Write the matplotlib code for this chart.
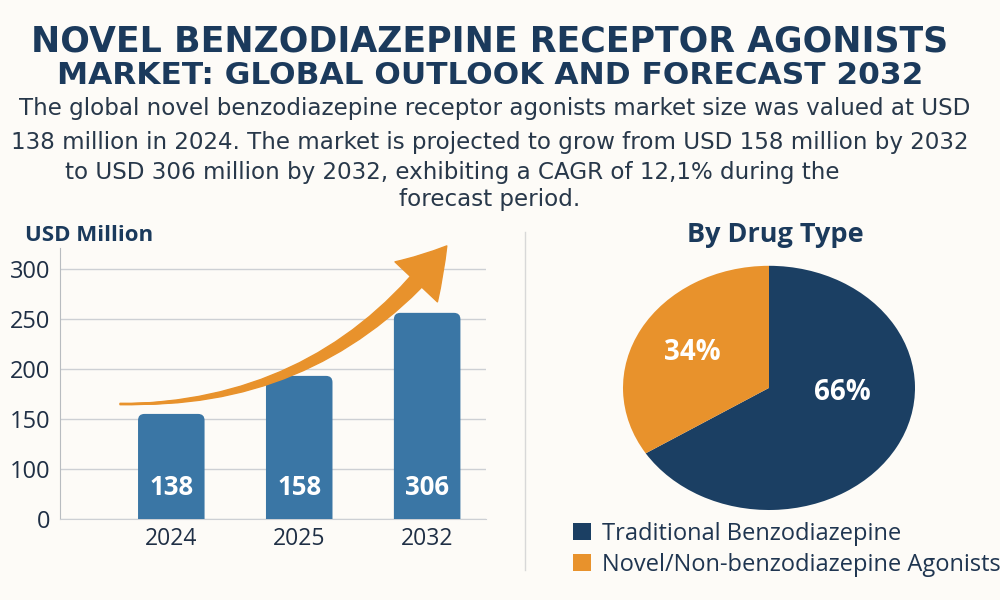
import matplotlib.pyplot as plt
from matplotlib.patches import FancyBboxPatch, FancyArrowPatch
from matplotlib.lines import Line2D

# data
years = ['2024', '2025', '2032']
bar_heights = [155, 193, 256]      # bar tops as drawn against the axis
bar_labels = ['138', '158', '306']
ytick_pos = [50, 100, 150, 200, 250, 300]
ytick_labels = ['0', '100', '150', '200', '250', '300']

drug_types = ['Traditional Benzodiazepine', 'Novel/Non-benzodiazepine Agonists']
shares = [66, 34]

title_lines = ['NOVEL BENZODIAZEPINE RECEPTOR AGONISTS',
               'MARKET: GLOBAL OUTLOOK AND FORECAST 2032']
body_lines = ['The global novel benzodiazepine receptor agonists market size was valued at USD',
              '138 million in 2024. The market is projected to grow from USD 158 million by 2032',
              'to USD 306 million by 2032, exhibiting a CAGR of 12,1% during the',
              'forecast period.']

BG = '#FDFBF7'
NAVY = '#1B3A5C'
BAR = '#3A76A5'
PIE_NAVY = '#1B3F63'
ORANGE = '#E8922C'
GRID = '#CDD0D4'
HEAD = ['DejaVu Sans']
GEO = ['Open Sans', 'DejaVu Sans']

fig = plt.figure(figsize=(10, 6), dpi=100, facecolor=BG)

# header
fig.text(0.49, 0.930, title_lines[0], ha='center', va='center', family=HEAD,
         fontsize=25, fontweight='bold', color=NAVY)
fig.text(0.49, 0.875, title_lines[1], ha='center', va='center', family=HEAD,
         fontsize=22.5, fontweight='bold', color=NAVY)
body_x = [0.495, 0.49, 0.452, 0.49]
body_y = [0.820, 0.763, 0.713, 0.667]
for txt, bx, by in zip(body_lines, body_x, body_y):
    fig.text(bx, by, txt, ha='center', va='center', family=HEAD,
             fontsize=16.6, color='#28384A')

# bar chart
ax = fig.add_axes([0.06, 0.135, 0.426, 0.452])
ax.set_facecolor(BG)
x = range(len(years))
bars = ax.bar(x, bar_heights, width=0.52, color=BAR)
ax.set_xlim(-0.87, 2.46)
ax.set_ylim(50, 321)
# rounded tops: swap plain rectangles for round boxes
asp = (271 / 271) / (3.33 / 426)
for b in bars:
    rb = FancyBboxPatch((b.get_x(), b.get_y()), b.get_width(), b.get_height(),
                        boxstyle='round,pad=0,rounding_size=0.05',
                        mutation_aspect=asp, fc=BAR, ec='none', zorder=3)
    b.remove()
    ax.add_patch(rb)
for xi, lab in zip(x, bar_labels):
    ax.text(xi, 81, lab, ha='center', va='center', color='white', family=GEO,
            fontsize=18.5, fontweight='bold', zorder=4)
ax.set_yticks(ytick_pos)
ax.set_yticklabels(ytick_labels)
ax.set_xticks(list(x))
ax.set_xticklabels(years)
ax.tick_params(length=0, labelsize=16.5, labelcolor='#1F2F45')
ax.tick_params(axis='y', labelsize=17, pad=7)
ax.tick_params(axis='x', pad=6)
for t in ax.get_xticklabels() + ax.get_yticklabels():
    t.set_family(GEO)
ax.grid(axis='y', color=GRID, lw=1)
ax.set_axisbelow(True)
for s in ['top', 'right']:
    ax.spines[s].set_visible(False)
ax.spines['left'].set_color('#B8BCC0')
ax.spines['bottom'].set_color(GRID)

fig.text(0.025, 0.608, 'USD Million', ha='left', va='center', family=GEO,
         fontsize=16, fontweight='bold', color=NAVY)

# growth arrow: tapering body plus head
start, tip = (0.141, 0.424), (0.908, 1.007)
body = FancyArrowPatch(tip, start, transform=ax.transAxes,
                       connectionstyle='arc3,rad=-0.25',
                       arrowstyle='wedge,tail_width=0.6,shrink_factor=0.5',
                       mutation_scale=20, color=ORANGE, shrinkA=20, shrinkB=0,
                       clip_on=False, zorder=5)
head = FancyArrowPatch(start, tip, transform=ax.transAxes,
                       connectionstyle='arc3,rad=0.25',
                       arrowstyle='simple,head_length=1.7,head_width=2.1,tail_width=0.05',
                       mutation_scale=20, color=ORANGE, shrinkA=0, shrinkB=0,
                       clip_on=False, zorder=5)
ax.add_patch(body)
ax.add_patch(head)

# separator
fig.add_artist(Line2D([0.525, 0.525], [0.05, 0.613], transform=fig.transFigure,
                      color='#D8D8D8', lw=1))

# pie
pax = fig.add_axes([0.623, 0.15, 0.292, 0.407])
wedges, _, pcts = pax.pie(shares, colors=[PIE_NAVY, ORANGE], startangle=90,
                          counterclock=False, autopct='%d%%', pctdistance=0.6,
                          textprops=dict(color='white', fontsize=20,
                                         fontweight='bold', family=GEO))
pcts[0].set_position((0.5, -0.04))
pax.set_aspect('auto')
pax.set_xlim(-1, 1)
pax.set_ylim(-1, 1)

fig.text(0.775, 0.608, 'By Drug Type', ha='center', va='center', family=GEO,
         fontsize=19.5, fontweight='bold', color=NAVY)

fig.legend(wedges, drug_types, loc='upper left', bbox_to_anchor=(0.561, 0.15),
           frameon=False, prop=dict(family=GEO, size=17), labelcolor='#1F3550',
           handlelength=0.75, handleheight=0.75, handletextpad=0.5,
           labelspacing=0.3, borderpad=0)

fig.savefig('out.png', dpi=100, facecolor=BG)
